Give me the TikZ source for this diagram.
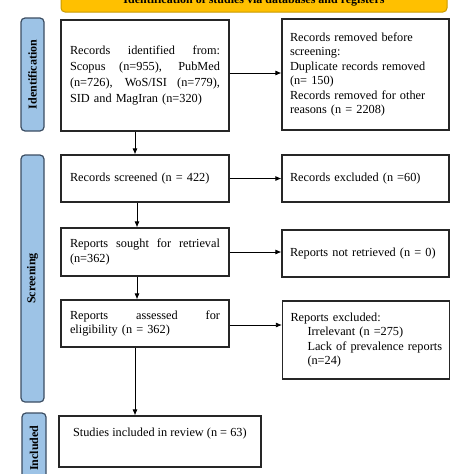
\documentclass[tikz,border=0pt]{standalone}
\usepackage{fontspec}
\setmainfont{Liberation Serif}
\usetikzlibrary{arrows.meta}
\definecolor{bannerfill}{HTML}{FFC000}
\definecolor{bannerdraw}{HTML}{C99A00}
\definecolor{sidefill}{HTML}{9DC3E6}
\definecolor{sidedraw}{HTML}{3C4E63}
\newcommand\jl[1]{\makebox[\hsize][s]{\spaceskip=0pt\xspaceskip=0pt #1}}
\begin{document}
\begin{tikzpicture}[x=1pt,y=-1pt,
  box/.style={draw=black!85,line width=1.2pt,fill=white,inner ysep=0pt,
    font=\fontsize{12.3}{14.5}\selectfont,align=left},
  lbox/.style={box,inner xsep=9pt,text width=150pt,minimum width=168pt},
  rbox/.style={box,inner xsep=8pt,text width=151pt,minimum width=167pt},
  side/.style={draw=sidedraw,fill=sidefill,line width=1.2pt,rounded corners=4pt,
    inner sep=0pt,font=\bfseries\fontsize{12}{14}\selectfont},
  banner/.style={draw=bannerdraw,fill=bannerfill,line width=1pt,rounded corners=4pt,
    inner sep=0pt,font=\bfseries\fontsize{12}{14}\selectfont},
  arr/.style={-{Latex[length=6pt,width=5pt]},line width=0.8pt,black}]
\useasboundingbox (0,0) rectangle (474,474);
\fill[white] (0,0) rectangle (474,474);
% banner
\node[banner,minimum width=386pt,minimum height=22pt] (ban) at (254,1) {};
\node[font=\bfseries\fontsize{12}{14}\selectfont,inner sep=0pt] (bant) at (254,0.5) {Identification of studies via databases and registers};
% side labels
\node[side,minimum width=23pt,minimum height=113pt] (sid) at (32.5,74.5) {};
\node[rotate=90,font=\bfseries\fontsize{12}{14}\selectfont] (sidt) at (sid.center) {Identification};
\node[side,minimum width=23pt,minimum height=247pt] (ssc) at (32.5,278.5) {};
\node[rotate=90,font=\bfseries\fontsize{12}{14}\selectfont] (ssct) at (ssc.center) {Screening};
\node[side,minimum width=24pt,minimum height=70pt] (sin) at (34,448) {};
\node[rotate=90,font=\bfseries\fontsize{12}{14}\selectfont] (sint) at (sin.center) {Included};
% left column
\node[lbox,minimum height=111pt,font=\fontsize{12.3}{16}\selectfont] (b1) at (145,75.5)
  {\jl{Records identified from:}\\\jl{Scopus (n=955), PubMed}\\\jl{(n=726), WoS/ISI (n=779),}\\SID and MagIran (n=320)};
\node[lbox,minimum height=47pt] (b3) at (145,178.5) {Records screened (n = 422)};
\node[lbox,minimum height=48pt] (b5) at (145,252) {\jl{Reports sought for retrieval}\\(n=362)};
\node[lbox,minimum height=47pt] (b7) at (145,323.5) {\jl{Reports assessed for}\\eligibility (n = 362)};
\node[box,inner xsep=9pt,minimum width=202pt,minimum height=51pt] (b9) at (160,441.5)
  {Studies included in review (n = 63)\\\strut\hspace*{174pt}};
% right column
\node[rbox,minimum height=111pt] (b2) at (365.5,74.5)
  {\mbox{Records removed before}\\\mbox{screening:}\\\mbox{Duplicate records removed}\\\mbox{(n= 150)}\\\mbox{Records removed for other}\\\mbox{reasons (n = 2208)}};
\node[rbox,minimum height=47pt] (b4) at (365.5,178.5) {Records excluded (n =60)};
\node[rbox,minimum height=47pt] (b6) at (365.5,253.5) {Reports not retrieved (n = 0)};
\node[rbox,minimum height=78pt] (b8) at (366,340)
  {\mbox{Reports excluded:}\\\mbox{\hspace*{17pt}Irrelevant (n =275)}\\\mbox{\hspace*{17pt}Lack of prevalence reports}\\\mbox{\hspace*{17pt}(n=24)}};
% arrows
\draw[arr] ([yshift=2.5pt]b1.east) -- ([yshift=1.5pt]b2.west);
\draw[arr] (b3.east) -- (b4.west);
\draw[arr] (b5.east) -- ([yshift=1.5pt]b6.west);
\draw[arr] ([yshift=-1.5pt]b7.east) -- ([yshift=15pt]b8.west);
\draw[arr] ([xshift=-10pt]b1.south) -- ([xshift=-10pt]b3.north);
\draw[arr] ([xshift=-8pt]b3.south) -- ([xshift=-8pt]b5.north);
\draw[arr] ([xshift=-8pt]b5.south) -- ([xshift=-8pt]b7.north);
\draw[arr] ([xshift=-10pt]b7.south) -- ([xshift=-25pt]b9.north);
\end{tikzpicture}
\end{document}
